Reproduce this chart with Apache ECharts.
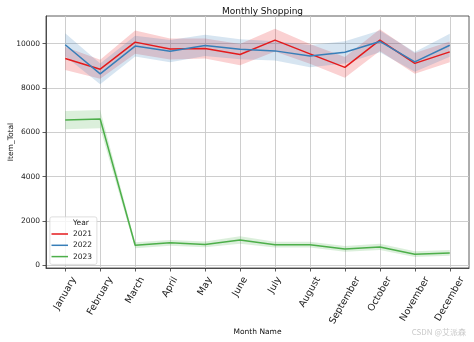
<!DOCTYPE html>
<html>
<head>
<meta charset="utf-8">
<script src="https://cdn.jsdelivr.net/npm/echarts@6/dist/echarts.min.js"></script>
<style>
  html, body { margin: 0; padding: 0; background: #fff; }
  #chart { width: 474px; height: 342px; }
</style>
</head>
<body>
<div id="chart"></div>
<script>
// Month categories on the x axis
const months = ['January', 'February', 'March', 'April', 'May', 'June',
  'July', 'August', 'September', 'October', 'November', 'December'];

// Mean Item_Total per month, with the confidence band bounds
const total2021 = [9330, 8850, 10070, 9760, 9780, 9510, 10160, 9540, 8930, 10160, 9110, 9630];
const low2021   = [8810, 8420, 9545, 9290, 9330, 9030, 9650, 9090, 8460, 9670, 8640, 9160];
const high2021  = [9850, 9280, 10595, 10230, 10230, 9990, 10670, 9990, 9400, 10650, 9580, 10100];

const total2022 = [9950, 8640, 9890, 9660, 9920, 9745, 9675, 9440, 9610, 10100, 9180, 9930];
const low2022   = [9430, 8170, 9420, 9160, 9440, 9295, 9245, 8940, 9110, 9610, 8730, 9410];
const high2022  = [10470, 9110, 10360, 10160, 10400, 10195, 10105, 9940, 10110, 10590, 9630, 10450];

const total2023 = [6555, 6600, 910, 1020, 946, 1150, 936, 936, 745, 835, 505, 565];
const low2023   = [6145, 6190, 775, 890, 816, 980, 806, 806, 615, 695, 375, 435];
const high2023  = [6965, 7010, 1045, 1150, 1076, 1320, 1066, 1066, 875, 975, 635, 695];

// Y tick values
const yTicks = [0, 2000, 4000, 6000, 8000, 10000];

const years = ['2021', '2022', '2023'];
const colors = ['#e41a1c', '#377eb8', '#4daf4a'];
const bandColors = ['rgba(228,26,28,0.2)', 'rgba(55,126,184,0.2)', 'rgba(77,175,74,0.2)'];
const totals = [total2021, total2022, total2023];
const lows = [low2021, low2022, low2023];
const highs = [high2021, high2022, high2023];

const FONT = 'DejaVu Sans';
const xFont = 9.5;

// Rotated month labels: centre each label under its tick, top edge a fixed
// distance below the axis (rich padding shifts the text along its own frame).
const measure = document.createElement('canvas').getContext('2d');
measure.font = xFont + 'px "' + FONT + '"';
const rich = {};
months.forEach((m, i) => {
  const w = measure.measureText(m).width;
  const d = 7 + (0.866 * w + 0.5 * xFont * 1.15) / 2;
  rich['m' + i] = {
    fontSize: xFont, fontFamily: FONT, color: '#222',
    padding: [d, 1.732 * d, 0, 0]
  };
});

// Confidence band drawn as one polygon through the axis scales
function bandRenderer(fill) {
  return function (params, api) {
    if (params.dataIndexInside !== 0) return null;
    const n = params.dataInsideLength;
    const upper = [], lower = [];
    for (let j = 0; j < n; j++) {
      const x = api.value(0, j);
      upper.push(api.coord([x, api.value(2, j)]));
      lower.unshift(api.coord([x, api.value(1, j)]));
    }
    return {
      type: 'polygon',
      shape: { points: upper.concat(lower) },
      style: { fill: fill },
      silent: true
    };
  };
}

const series = [];
years.forEach((y, k) => {
  series.push({
    name: y,
    type: 'line',
    data: totals[k].map((v, i) => [i, v]),
    showSymbol: false,
    symbol: 'none',
    lineStyle: { color: colors[k], width: 1.5 },
    itemStyle: { color: colors[k] },
    emphasis: { disabled: true },
    z: 3
  });
  series.push({
    name: y + ' band',
    type: 'custom',
    data: months.map((_, i) => [i, lows[k][i], highs[k][i]]),
    encode: { x: 0, y: [1, 2] },
    renderItem: bandRenderer(bandColors[k]),
    z: 2
  });
});

const chart = echarts.init(document.getElementById('chart'), null, { renderer: 'canvas' });
chart.setOption({
  animation: false,
  backgroundColor: '#fff',
  textStyle: { fontFamily: FONT },
  title: {
    text: 'Monthly Shopping',
    left: 257.5,
    top: 2,
    textAlign: 'center',
    textStyle: { fontFamily: FONT, fontSize: 9, fontWeight: 'normal', color: '#111' }
  },
  grid: {
    left: 46, right: 5, top: 16, bottom: 74,
    outerBoundsMode: 'none',
    containLabel: false,
    show: true, borderColor: '#333', borderWidth: 0.8
  },
  xAxis: {
    type: 'value',
    min: -0.55,
    max: 11.55,
    name: 'Month Name',
    nameLocation: 'middle',
    nameGap: 60.5,
    nameMoveOverlap: false,
    nameTextStyle: { fontFamily: FONT, fontSize: 7.5, color: '#111' },
    axisLine: { show: true, onZero: false, lineStyle: { color: '#333', width: 0.8 } },
    axisTick: { show: true, length: 3.5, customValues: months.map((_, i) => i), lineStyle: { color: '#333', width: 0.8 } },
    axisLabel: {
      customValues: months.map((_, i) => i),
      rotate: 60,
      margin: 0,
      align: 'center',
      verticalAlign: 'middle',
      formatter: (v) => '{m' + v + '|' + months[v] + '}',
      rich: rich
    },
    splitLine: { show: true, lineStyle: { color: '#c8c8c8', width: 0.9 } }
  },
  yAxis: {
    type: 'value',
    min: -117,
    max: 11248,
    name: 'Item_Total',
    nameLocation: 'middle',
    nameGap: 31,
    nameMoveOverlap: false,
    nameRotate: 90,
    nameTextStyle: { fontFamily: FONT, fontSize: 7.5, color: '#111' },
    axisLine: { show: true, onZero: false, lineStyle: { color: '#333', width: 0.8 } },
    axisTick: { show: true, length: 3.5, customValues: yTicks, lineStyle: { color: '#333', width: 0.8 } },
    axisLabel: {
      customValues: yTicks,
      margin: 6,
      formatter: (v) => String(v),
      fontFamily: FONT, fontSize: 7.5, color: '#222'
    },
    splitLine: { show: true, lineStyle: { color: '#c8c8c8', width: 0.9 } }
  },
  legend: {
    data: years,
    orient: 'vertical',
    left: 51.5,
    top: 229.5,
    padding: 0,
    itemWidth: 16.5,
    itemHeight: 1.5,
    itemGap: 2.3,
    icon: 'rect',
    selectedMode: false,
    z: 20,
    textStyle: { fontFamily: FONT, fontSize: 7.5, color: '#222', lineHeight: 9 }
  },
  graphic: [
    {
      type: 'rect',
      left: 49.5, top: 216.5,
      shape: { width: 47, height: 47.5, r: 2 },
      style: { fill: 'rgba(255,255,255,0.8)', stroke: '#d6d6d6', lineWidth: 0.8 },
      z: 10
    },
    {
      type: 'text',
      left: 73, top: 219,
      style: { text: 'Year', fontFamily: FONT, fontSize: 7.5, fill: '#222', textAlign: 'center' },
      z: 21
    },
    {
      type: 'text',
      right: 8, top: 328,
      style: { text: 'CSDN @艾派森', fontFamily: '"Noto Sans CJK SC", "DejaVu Sans"', fontSize: 8, fill: '#c9c9c9' },
      z: 21
    }
  ],
  series: series
});
</script>
</body>
</html>
